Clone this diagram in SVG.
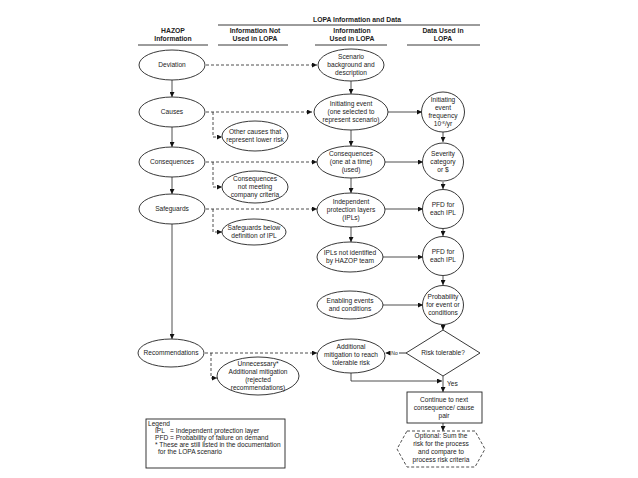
<svg xmlns="http://www.w3.org/2000/svg" width="638" height="478" viewBox="0 0 638 478">
<defs>
<marker id="ah" viewBox="0 0 6 6" refX="6" refY="3" markerWidth="5" markerHeight="5" orient="auto" markerUnits="userSpaceOnUse"><path d="M0,0 L6,3 L0,6 z" fill="#111"/></marker>
</defs>
<style>
text{font-family:"Liberation Sans",Arial,sans-serif;font-size:6.6px;fill:#222;text-anchor:middle}
.h{font-weight:bold;font-size:6.8px}
.n{fill:#fff;stroke:#222;stroke-width:0.9}
.s{fill:none;stroke:#222;stroke-width:0.9}
.c{fill:none;stroke:#222;stroke-width:0.8;marker-end:url(#ah)}
.d{fill:none;stroke:#222;stroke-width:0.8;stroke-dasharray:3,2}
.da{fill:none;stroke:#222;stroke-width:0.8;stroke-dasharray:3,2;marker-end:url(#ah)}
.l{text-anchor:start}
</style>
<rect width="638" height="478" fill="#fff"/>
<g id="header">
<text class="h" x="357" y="22">LOPA Information and Data</text>
<line class="s" x1="218" y1="25" x2="480" y2="25"/>
<text class="h" x="173" y="33">HAZOP</text><text class="h" x="173" y="41">Information</text>
<line class="s" x1="138" y1="45" x2="208" y2="45"/>
<text class="h" x="255" y="33">Information Not</text><text class="h" x="255" y="41">Used in LOPA</text>
<line class="s" x1="218" y1="45" x2="288" y2="45"/>
<text class="h" x="352" y="33">Information</text><text class="h" x="352" y="41">Used in LOPA</text>
<line class="s" x1="315" y1="45" x2="387" y2="45"/>
<text class="h" x="443" y="33">Data Used in</text><text class="h" x="443" y="41">LOPA</text>
<line class="s" x1="407" y1="45" x2="480" y2="45"/>
</g>
<g id="connectors">
<line class="c" x1="172" y1="80" x2="172" y2="97"/>
<line class="c" x1="172" y1="127" x2="172" y2="147"/>
<line class="c" x1="172" y1="177" x2="172" y2="194"/>
<line class="c" x1="172" y1="224" x2="172" y2="339"/>
<line class="da" x1="206" y1="65" x2="317" y2="65"/>
<line class="da" x1="206" y1="112" x2="312" y2="112"/>
<polyline class="da" points="213,112 213,137 222,137"/>
<line class="da" x1="206" y1="162" x2="317" y2="162"/>
<polyline class="da" points="213,162 213,187 222,187"/>
<line class="da" x1="206" y1="209" x2="317" y2="209"/>
<polyline class="da" points="213,209 213,232 222,232"/>
<line class="da" x1="205" y1="353" x2="317" y2="353"/>
<polyline class="da" points="211,353 211,378 217,378"/>
<line class="c" x1="351" y1="81" x2="351" y2="94"/>
<line class="c" x1="351" y1="130" x2="351" y2="146"/>
<line class="c" x1="351" y1="178" x2="351" y2="193"/>
<line class="c" x1="351" y1="227" x2="351" y2="242"/>
<line class="c" x1="388" y1="112" x2="422" y2="112"/>
<line class="c" x1="385" y1="162" x2="423" y2="162"/>
<line class="c" x1="385" y1="209" x2="423" y2="209"/>
<line class="c" x1="383" y1="257" x2="423" y2="257"/>
<line class="c" x1="383" y1="305" x2="423" y2="305"/>
<line class="c" x1="443" y1="132" x2="443" y2="142"/>
<line class="c" x1="443" y1="182" x2="443" y2="189"/>
<line class="c" x1="443" y1="229" x2="443" y2="236"/>
<line class="c" x1="443" y1="276" x2="443" y2="285"/>
<line class="c" x1="443" y1="325" x2="443" y2="330"/>
<line class="s" x1="406" y1="353" x2="399" y2="353"/>
<line class="c" x1="390" y1="353" x2="385.5" y2="353"/>
<text x="394.5" y="355" style="font-size:5px">No</text>
<polyline class="c" points="351,373 351,381 442,381"/>
<line class="c" x1="443" y1="376" x2="443" y2="392"/>
<text class="l" x="447" y="386">Yes</text>
<line class="c" x1="443" y1="423" x2="443" y2="431"/>
</g>
<g id="deviation"><ellipse class="n" cx="172" cy="65" rx="33" ry="15"/><text x="172" y="67">Deviation</text></g>
<g id="causes"><ellipse class="n" cx="172" cy="112" rx="33" ry="15"/><text x="172" y="114">Causes</text></g>
<g id="consequences"><ellipse class="n" cx="172" cy="162" rx="33" ry="15"/><text x="172" y="164">Consequences</text></g>
<g id="safeguards"><ellipse class="n" cx="172" cy="209" rx="33" ry="15"/><text x="172" y="211">Safeguards</text></g>
<g id="recommendations"><ellipse class="n" cx="171" cy="353" rx="33" ry="14"/><text x="171" y="355">Recommendations</text></g>
<g id="other-causes"><ellipse class="n" cx="255" cy="136" rx="33" ry="15"/><text x="255" y="134">Other causes that</text><text x="255" y="142">represent lower risk</text></g>
<g id="cons-not-meeting"><ellipse class="n" cx="255" cy="187" rx="33" ry="16"/><text x="255" y="181">Consequences</text><text x="255" y="189">not meeting</text><text x="255" y="197">company criteria</text></g>
<g id="safeguards-below"><ellipse class="n" cx="254" cy="232" rx="32" ry="13"/><text x="254" y="230">Safeguards below</text><text x="254" y="238">definition of IPL</text></g>
<g id="unnecessary"><ellipse class="n" cx="258" cy="376" rx="41" ry="19"/><text x="258" y="366">Unnecessary*</text><text x="258" y="374">Additional mitigation</text><text x="258" y="382">(rejected</text><text x="258" y="390">recommendations)</text></g>
<g id="scenario"><ellipse class="n" cx="351" cy="65" rx="33" ry="16"/><text x="351" y="59">Scenario</text><text x="351" y="67">background and</text><text x="351" y="75">description</text></g>
<g id="initiating"><ellipse class="n" cx="351" cy="112" rx="37" ry="18"/><text x="351" y="106">Initiating event</text><text x="351" y="114">(one selected to</text><text x="351" y="122">represent scenario)</text></g>
<g id="consequences-used"><ellipse class="n" cx="351" cy="162" rx="34" ry="16"/><text x="351" y="156">Consequences</text><text x="351" y="164">(one at a time)</text><text x="351" y="172">(used)</text></g>
<g id="ipl"><ellipse class="n" cx="351" cy="210" rx="34" ry="17"/><text x="351" y="204">Independent</text><text x="351" y="212">protection layers</text><text x="351" y="220">(IPLs)</text></g>
<g id="ipl-not-identified"><ellipse class="n" cx="350" cy="257" rx="33" ry="15"/><text x="350" y="255">IPLs not identified</text><text x="350" y="263">by HAZOP team</text></g>
<g id="enabling"><ellipse class="n" cx="350" cy="305" rx="33" ry="14"/><text x="350" y="303">Enabling events</text><text x="350" y="311">and conditions</text></g>
<g id="additional"><ellipse class="n" cx="351" cy="356" rx="34" ry="17"/><text x="351" y="349">Additional</text><text x="351" y="357">mitigation to reach</text><text x="351" y="365">tolerable risk</text></g>
<g id="ie-frequency"><ellipse class="n" cx="443" cy="112" rx="21.5" ry="20"/><text x="443" y="102">Initiating</text><text x="443" y="110">event</text><text x="443" y="118">frequency</text><text x="443" y="126">10<tspan dy="-2.5" style="font-size:4.5px">-x</tspan><tspan dy="2.5">/yr</tspan></text></g>
<g id="severity"><ellipse class="n" cx="443" cy="162" rx="20.5" ry="19"/><text x="443" y="156">Severity</text><text x="443" y="164">category</text><text x="443" y="172">or $</text></g>
<g id="pfd1"><ellipse class="n" cx="443" cy="209" rx="20.5" ry="19.5"/><text x="443" y="207">PFD for</text><text x="443" y="215">each IPL</text></g>
<g id="pfd2"><ellipse class="n" cx="443" cy="256" rx="20.5" ry="19.5"/><text x="443" y="254">PFD for</text><text x="443" y="262">each IPL</text></g>
<g id="probability"><ellipse class="n" cx="443" cy="305" rx="20.5" ry="19.5"/><text x="443" y="299">Probability</text><text x="443" y="307">for event or</text><text x="443" y="315">conditions</text></g>
<g id="risk-tolerable"><polygon class="n" points="443,330 480,353 443,376 406,353"/><text x="443" y="355">Risk tolerable?</text></g>
<g id="continue"><rect class="n" x="407" y="392" width="75" height="31"/><text x="444" y="402">Continue to next</text><text x="444" y="410">consequence/ cause</text><text x="444" y="418">pair</text></g>
<g id="optional"><polygon class="d" points="407,431 475,431 485,449 475,467 407,467 397,449"/><text x="441" y="438">Optional: Sum the</text><text x="441" y="446">risk for the process</text><text x="441" y="454">and compare to</text><text x="441" y="462">process risk criteria</text></g>
<g id="legend"><rect class="n" x="146" y="419" width="139" height="49"/>
<text class="l" x="148" y="426">Legend</text>
<text class="l" x="155" y="433">IPL</text><text class="l" x="170" y="433">= Independent protection layer</text>
<text class="l" x="155" y="440">PFD</text><text class="l" x="170" y="440">= Probability of failure on demand</text>
<text class="l" x="155" y="447">* These are still listed in the documentation</text>
<text class="l" x="158" y="454">for the LOPA scenario</text>
</g>
</svg>
